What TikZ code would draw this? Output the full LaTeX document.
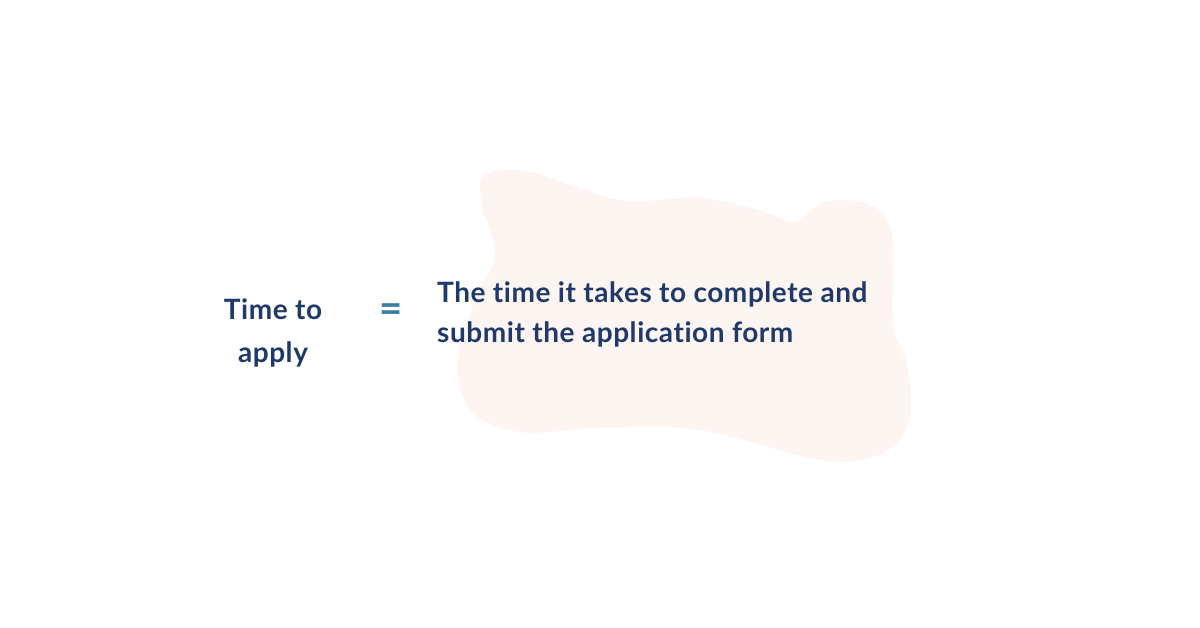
\documentclass[tikz,border=0pt]{standalone}
\usepackage{fontspec}
\setmainfont{Lato}[Ligatures=NoCommon,LetterSpace=2]
\definecolor{navy}{HTML}{1F3A6A}
\definecolor{teal}{HTML}{3B7CA3}
\definecolor{blob}{HTML}{FDF5F1}
\begin{document}
\begin{tikzpicture}[x=1pt,y=-1pt,txt/.style={font=\bfseries\fontsize{28}{40}\selectfont,text=navy,align=left,inner sep=0}]
\useasboundingbox[fill=white] (0,0) rectangle (1200,628);
\fill[blob] plot[smooth cycle,tension=0.6] coordinates{(485,175)(530,172)(620,200)(700,198)(765,212)(795,222)(825,202)(870,205)(892,235)(893,320)(908,370)(908,425)(878,455)(820,460)(700,430)(600,428)(520,432)(470,410)(458,360)(475,300)(495,255)(482,205)};
\node[txt,align=center,font=\bfseries\fontsize{28}{43}\selectfont] (lhs) at (273,333) {Time to\\apply};
\node[txt,text=teal,font=\bfseries\fontsize{40}{40}\selectfont] (eq) at (391,313) {=};
\node[txt,anchor=west] (rhs) at (437,314) {The time it takes to complete and\\submit the application form};
\end{tikzpicture}
\end{document}
